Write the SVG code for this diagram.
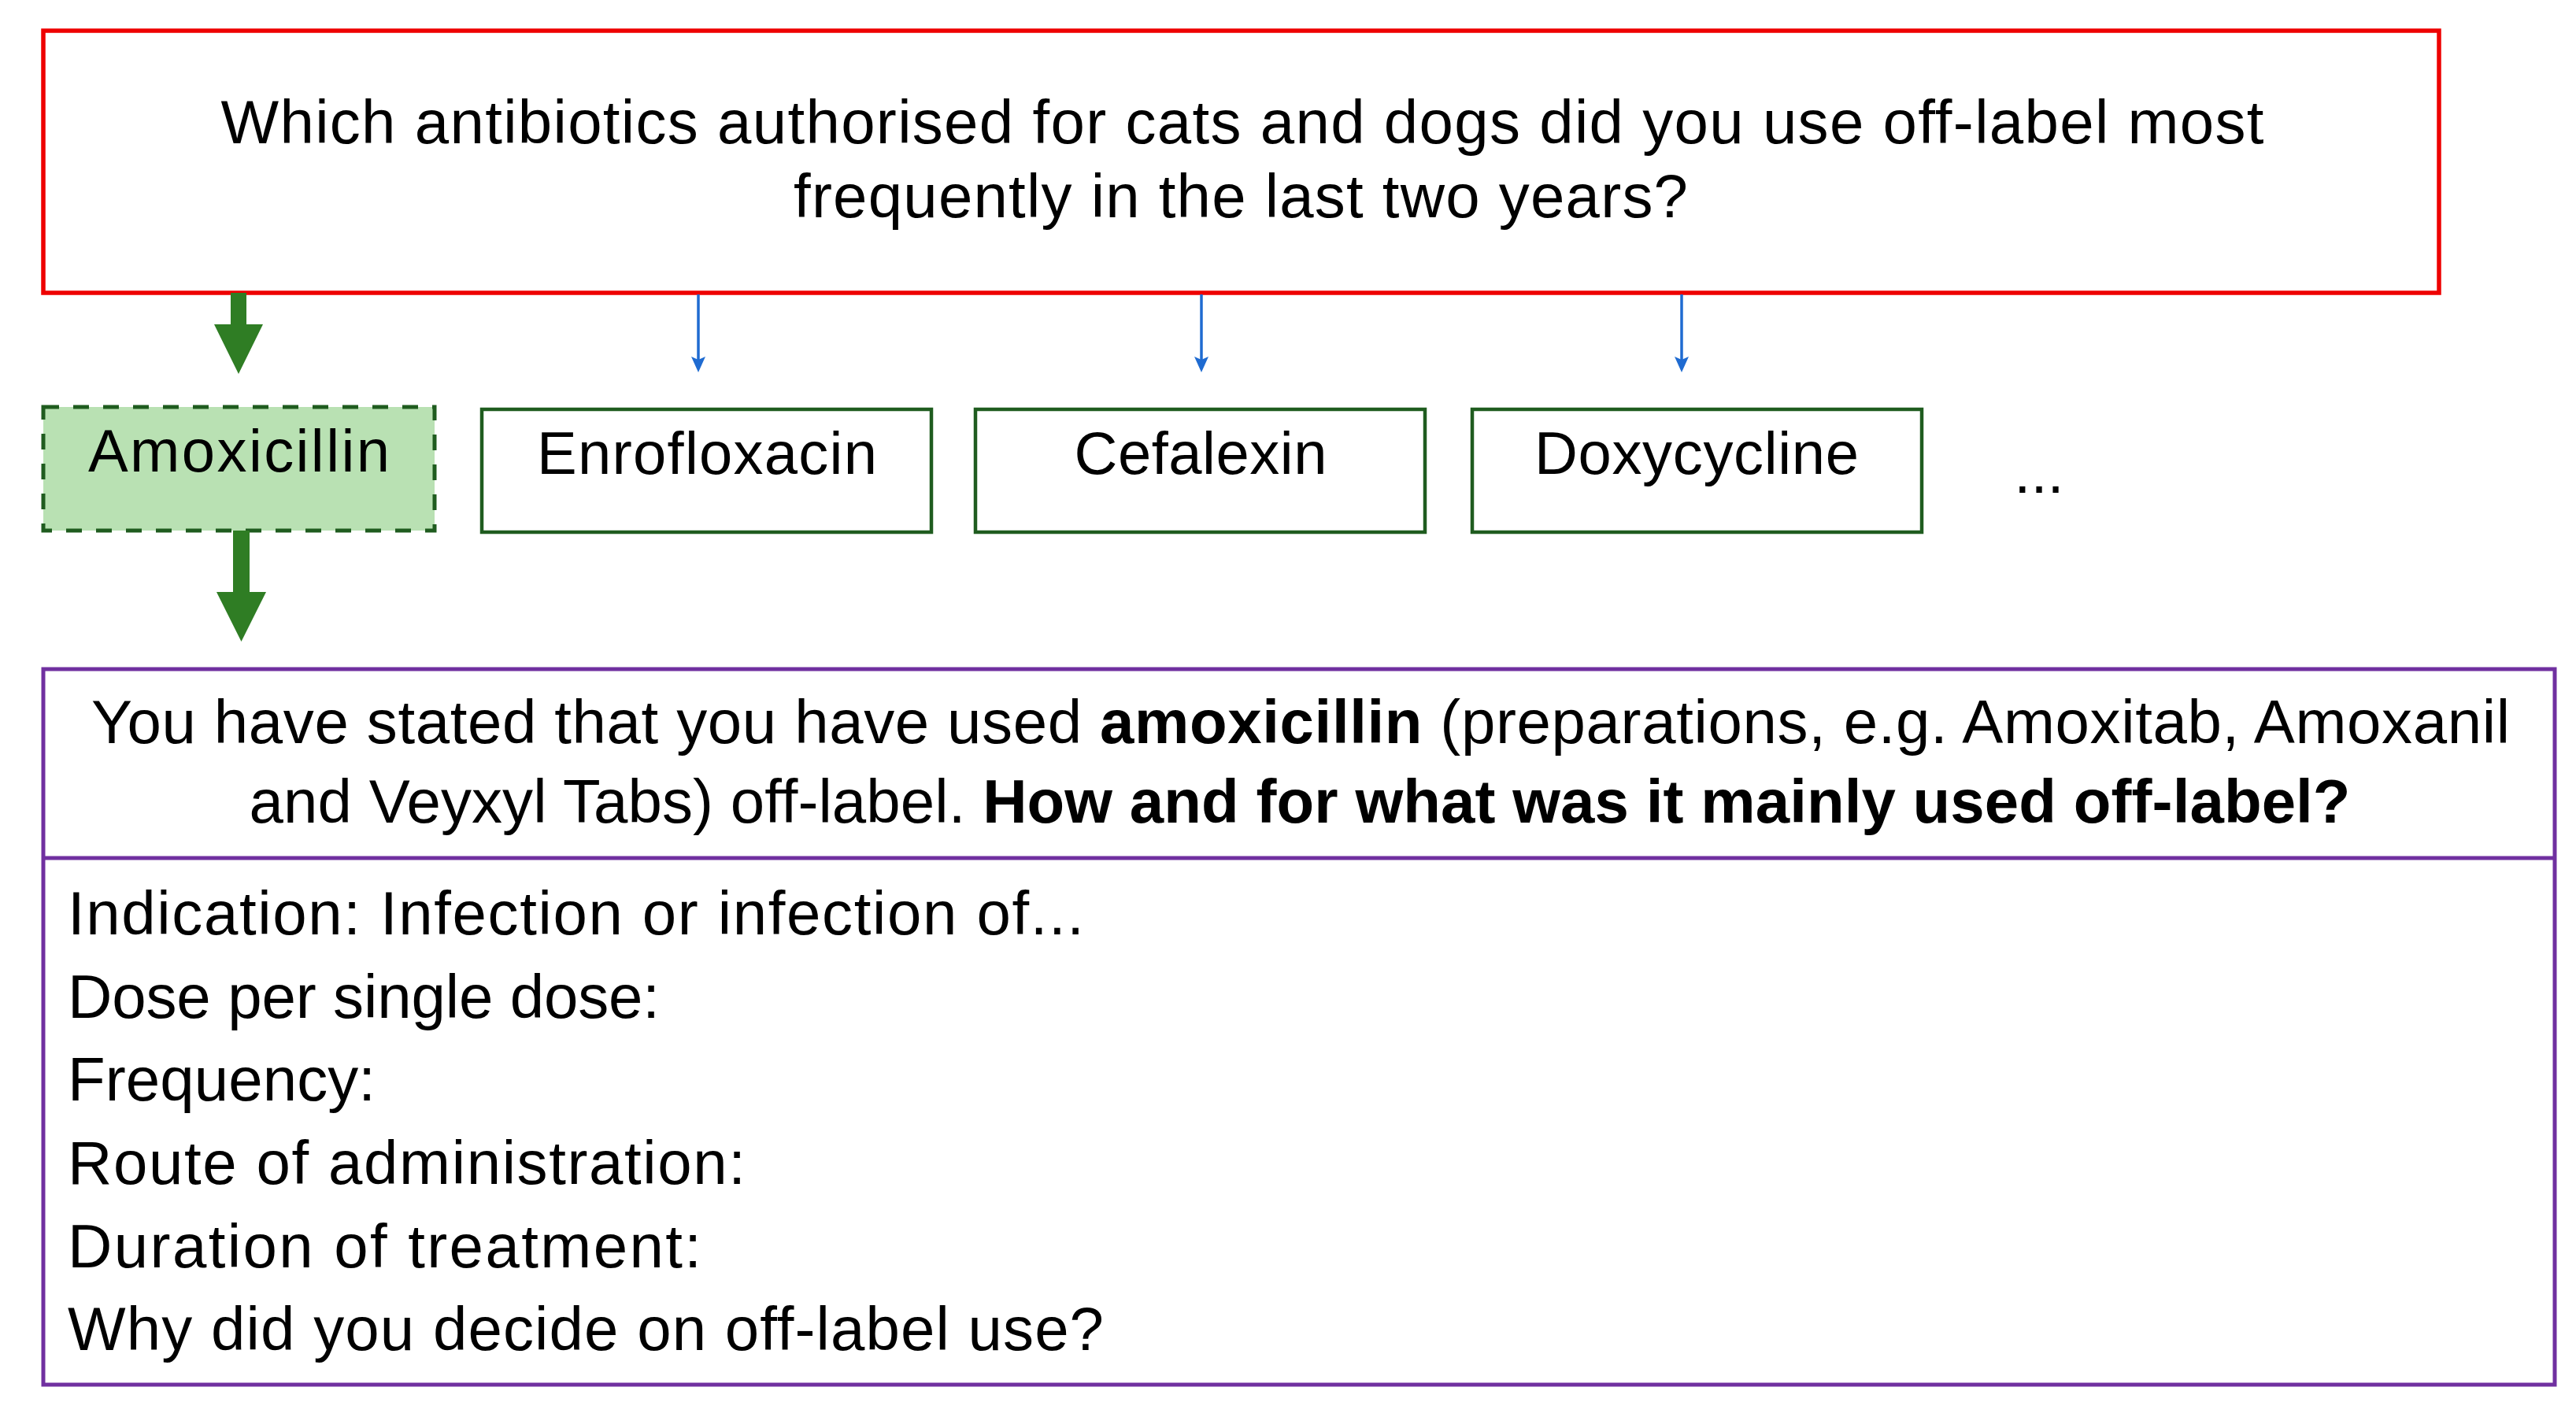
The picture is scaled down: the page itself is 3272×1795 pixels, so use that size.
<svg xmlns="http://www.w3.org/2000/svg" width="3272" height="1795" viewBox="0 0 3272 1795">
  <style>
    text { font-family: "Liberation Sans", Arial, sans-serif; fill: #000000; }
    .title { font-size: 78px; text-anchor: middle; }
    .label { font-size: 76px; text-anchor: middle; }
    .body { font-size: 78px; }
    .head { font-size: 78px; text-anchor: middle; }
    .b { font-weight: bold; }
    .box { fill: #ffffff; stroke: #1f5c1f; stroke-width: 4.5; }
    .bluearrow { stroke: #1f6bd1; stroke-width: 3.5; fill: none; }
    .greenarrow { fill: #2f7d24; }
  </style>
  <defs>
    <marker id="blueHead" viewBox="0 0 20 18" refX="9" refY="9" markerWidth="20" markerHeight="18" markerUnits="userSpaceOnUse" orient="auto">
      <path d="M0,0 L20,9 L0,18 L4,9 z" fill="#1f6bd1"/>
    </marker>
  </defs>
  <rect width="3272" height="1795" fill="#ffffff"/>

  <g id="question">
    <rect x="55" y="39" width="3043" height="333" fill="#ffffff" stroke="#ee0000" stroke-width="5.5"/>
    <text class="title" x="1578" y="182" textLength="2595" lengthAdjust="spacing">Which antibiotics authorised for cats and dogs did you use off-label most</text>
    <text class="title" x="1576" y="276" textLength="1136" lengthAdjust="spacing">frequently in the last two years?</text>
  </g>

  <g id="amoxicillin">
    <rect x="55" y="517" width="497" height="157" fill="#b9e1b3" stroke="#1f5c1f" stroke-width="5" stroke-dasharray="20,18"/>
    <text class="label" x="303.5" y="599" textLength="383" lengthAdjust="spacing">Amoxicillin</text>
  </g>

  <g id="enrofloxacin">
    <rect class="box" x="612" y="520" width="571" height="156"/>
    <text class="label" x="898" y="602" textLength="432" lengthAdjust="spacing">Enrofloxacin</text>
  </g>

  <g id="cefalexin">
    <rect class="box" x="1239" y="520" width="571" height="156"/>
    <text class="label" x="1525" y="602" textLength="321" lengthAdjust="spacing">Cefalexin</text>
  </g>

  <g id="doxycycline">
    <rect class="box" x="1870" y="520" width="571" height="156"/>
    <text class="label" x="2155" y="602" textLength="412" lengthAdjust="spacing">Doxycycline</text>
  </g>

  <g id="more">
    <text class="label" x="2590" y="626">...</text>
  </g>

  <g id="followup">
    <rect x="55" y="850" width="3190" height="909" fill="#ffffff" stroke="#7030a0" stroke-width="5"/>
    <line x1="55" y1="1090" x2="3245" y2="1090" stroke="#7030a0" stroke-width="5"/>
    <text class="head" x="1652" y="944" textLength="3072" lengthAdjust="spacing">You have stated that you have used <tspan class="b">amoxicillin</tspan> (preparations, e.g. Amoxitab, Amoxanil</text>
    <text class="head" x="1651" y="1045" textLength="2669" lengthAdjust="spacing">and Veyxyl Tabs) off-label. <tspan class="b">How and for what was it mainly used off-label?</tspan></text>
    <text class="body" x="86" y="1187" textLength="1291" lengthAdjust="spacing">Indication: Infection or infection of...</text>
    <text class="body" x="86" y="1293" textLength="752" lengthAdjust="spacing">Dose per single dose:</text>
    <text class="body" x="86" y="1398" textLength="391" lengthAdjust="spacing">Frequency:</text>
    <text class="body" x="86" y="1504" textLength="861" lengthAdjust="spacing">Route of administration:</text>
    <text class="body" x="86" y="1610" textLength="805" lengthAdjust="spacing">Duration of treatment:</text>
    <text class="body" x="86" y="1715" textLength="1316" lengthAdjust="spacing">Why did you decide on off-label use?</text>
  </g>

  <g id="connectors">
    <polygon class="greenarrow" points="293,372 313,372 313,412 334,412 303,475 272,412 293,412"/>
    <polygon class="greenarrow" points="296,674 317,674 317,752 338,752 306.5,815 275,752 296,752"/>
    <line class="bluearrow" x1="887" y1="374" x2="887" y2="462" marker-end="url(#blueHead)"/>
    <line class="bluearrow" x1="1526" y1="374" x2="1526" y2="462" marker-end="url(#blueHead)"/>
    <line class="bluearrow" x1="2136" y1="374" x2="2136" y2="462" marker-end="url(#blueHead)"/>
  </g>
</svg>
